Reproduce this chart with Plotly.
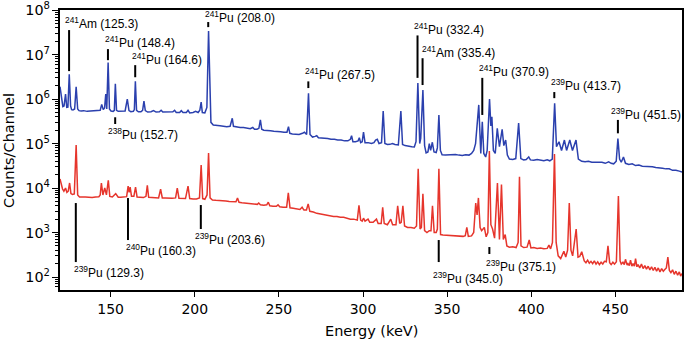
import math
import plotly.graph_objects as go

# ---------------- data ----------------
blue_energy = [
    119.9, 120.8, 121.6, 122.3, 123.2, 123.9, 124.6, 125.4, 126.2, 126.8, 127.6, 128.6, 129.5, 130.4,
    131.2, 132.5, 134, 136, 138, 140, 142, 143.8, 144.7, 145.6, 146.4, 147.1, 147.7, 148.5, 149.3,
    150.2, 151.5, 152.2, 152.8, 153.5, 154.5, 156, 157.5, 158.6, 159.9, 160.9, 162, 163.5, 164.1,
    164.7, 165.4, 166.5, 168, 169, 169.8, 170.6, 172, 174, 175.5, 177, 179, 180, 181, 183, 185, 187,
    188, 189, 191, 192, 193, 195, 196, 197, 199, 200.5, 202, 203, 203.8, 204.5, 206, 207.2, 208.2,
    209.0, 209.6, 211, 213, 215, 217, 219, 221, 222.3, 223, 225, 227, 229, 231, 233, 234.5, 235.5,
    237, 238.1, 239, 239.8, 241, 243, 245, 247, 249, 251, 253, 254.8, 255.7, 256.5, 258, 260, 262,
    264, 265.2, 266.5, 267.6, 268.5, 270, 271.5, 272.5, 273.5, 275, 277, 279, 281, 283, 285, 287,
    289, 291, 292.5, 293.2, 294, 295.5, 297.1, 297.8, 298.6, 299.5, 300.3, 301.2, 303, 305, 306.5,
    307.5, 308.5, 309.5, 311, 312, 313, 314.5, 316, 317.5, 319, 321, 322.5, 323.5, 325, 327, 329,
    330.5, 331.5, 332.6, 333.7, 334.3, 335.6, 336.6, 337.5, 338.6, 339.4, 340.2, 341.2, 342.2,
    343.5, 344.2, 345.1, 346, 347, 349, 351, 353, 355, 357, 359, 361, 363, 364.5, 365.8, 366.9,
    368.8, 370.0, 370.9, 371.8, 372.9, 373.8, 375.2, 376.0, 376.6, 377.5, 378.6, 379.8, 381.1,
    382.7, 383.7, 384.8, 385.8, 387, 389, 390.8, 392.5, 393.8, 395.5, 397, 398.5, 399.5, 401.5,
    403.5, 405.5, 407.5, 409.5, 411, 412.5, 413.9, 415, 416.5, 418, 419.7, 421, 422.9, 424.5,
    426.6, 428, 430, 432, 434, 436, 438, 440, 442, 444, 446, 447.5, 449, 450.5, 451.5, 452.5,
    453.5, 454.8, 456, 458, 460, 462, 464, 466, 468, 470, 472, 474, 476, 478, 480, 482, 484, 486,
    488, 489.6,
]
blue_counts = [
    1.9e6, 1.1e6, 6.8e5, 7.0e5, 1.3e6, 6.5e5, 6.6e5, 3.6e6, 7.0e5, 5.8e5, 5.7e5, 6.0e5, 1.9e6, 6.0e5,
    5.5e5, 5.4e5, 5.5e5, 5.3e5, 5.4e5, 5.3e5, 5.4e5, 5.6e5, 7.6e5, 5.8e5, 6.3e5, 1.3e6, 6.0e5, 6.6e6, 6.0e5,
    5.4e5, 5.3e5, 5.6e5, 2.2e6, 5.6e5, 5.3e5, 5.3e5, 5.2e5, 5.4e5, 1.0e6, 5.5e5, 5.2e5, 5.3e5, 5.8e5,
    2.5e6, 5.6e5, 5.2e5, 5.2e5, 5.6e5, 9.0e5, 5.5e5, 5.1e5, 5.2e5, 5.5e5, 5.1e5, 5.2e5, 5.6e5, 5.1e5, 5.1e5, 5.0e5, 5.2e5,
    5.6e5, 5.0e5, 5.0e5, 5.5e5, 5.0e5, 5.0e5, 5.6e5, 4.9e5, 5.0e5, 5.3e5, 5.0e5, 5.6e5, 8.6e5, 5.0e5, 4.9e5, 6.5e5, 3.4e7,
    1.0e6, 3.0e5, 2.6e5, 2.5e5, 2.5e5, 2.45e5, 2.4e5, 2.45e5, 3.7e5, 2.45e5, 2.35e5, 2.3e5, 2.3e5, 2.2e5, 2.15e5, 2.3e5, 2.1e5,
    2.1e5, 2.2e5, 3.4e5, 2.1e5, 2.0e5, 2.0e5, 1.95e5, 1.9e5, 1.9e5, 1.85e5, 1.8e5, 1.8e5, 2.4e5, 1.7e5, 1.65e5, 1.6e5, 1.6e5,
    1.7e5, 1.8e5, 1.6e5, 1.35e6, 1.6e5, 1.4e5, 1.45e5, 1.5e5, 1.35e5, 1.35e5, 1.3e5, 1.3e5, 1.25e5, 1.25e5, 1.2e5, 1.2e5,
    1.15e5, 1.15e5, 1.25e5, 1.5e5, 1.1e5, 1.1e5, 1.15e5, 1.35e5, 1.05e5, 1.1e5, 1.8e5, 1.05e5, 1.05e5, 1.0e5, 1.05e5,
    1.2e5, 1.25e5, 1.0e5, 1.05e5, 5.4e5, 1.0e5, 9.5e4, 9.6e4, 1.0e5, 9.5e4, 9.3e4, 5.4e5, 9.5e4, 9.0e4, 8.6e4, 8.5e4,
    8.4e4, 1.1e5, 2.3e6, 1.0e5, 1.3e5, 1.6e6, 9.0e4, 6.2e4, 6.5e4, 1.0e5, 7.0e4, 1.07e5, 6.5e4,
    6.3e4, 8.0e4, 4.4e5, 7.0e4, 5.6e4, 5.5e4, 5.6e4, 5.5e4, 5.7e4, 5.5e4, 5.4e4, 5.6e4, 5.5e4, 6.0e4, 7.0e4, 1.0e5,
    7.4e5, 6.0e4, 3.1e5, 6.0e4, 5.0e4, 7.0e4, 1.0e6, 2.5e5, 4.0e5, 7.0e4, 6.0e4, 2.2e5, 8.5e4,
    2.1e5, 9.0e4, 1.2e5, 5.5e4, 4.5e4, 4.4e4, 4.6e4, 2.9e5, 4.6e4, 4.3e4, 4.4e4, 5.0e4, 4.3e4, 4.2e4,
    4.4e4, 4.2e4, 4.1e4, 4.3e4, 4.1e4, 4.5e4, 8.1e5, 8.5e4, 1.1e5, 7.0e4, 1.2e5, 7.0e4, 1.2e5, 7.0e4,
    1.2e5, 4.5e4, 4.0e4, 3.9e4, 4.0e4, 3.8e4, 3.8e4, 3.7e4, 3.8e4, 3.6e4, 3.9e4, 3.6e4, 3.5e4, 4.0e4, 1.3e5, 4.5e4,
    3.8e4, 5.0e4, 3.6e4, 3.4e4, 3.5e4, 3.2e4, 3.3e4, 3.1e4, 3.1e4, 3.0e4, 3.0e4, 2.9e4, 2.9e4, 2.8e4, 2.7e4, 2.7e4, 2.5e4, 2.5e4,
    2.4e4, 2.3e4,
]

red_energy = [
    119.9, 120.6, 121.4, 122.2, 123.2, 124.0, 124.8, 125.6, 126.4, 127.3, 128.4, 129.5, 130.4, 131.5,
    133, 135, 137, 139, 141, 143, 143.8, 144.5, 145.4, 146.5, 147.5, 148.6, 149.5, 151, 153, 154.5,
    156, 158, 159.5, 160.4, 161.0, 161.6, 162.4, 163.8, 164.8, 165.7, 167.5, 169.5, 171, 171.8,
    172.6, 174.5, 176.5, 178.5, 179.7, 180.7, 182.5, 184.5, 186.5, 188.6, 189.6, 190.6, 192.5,
    194.5, 196.0, 197, 199, 201, 202.8, 203.8, 204.7, 206, 207.3, 208.2, 209.1, 210.5, 212.5,
    214.5, 216.5, 218.5, 220.5, 222.5, 224.5, 225.4, 226.3, 228, 230, 232, 234, 236, 237.2, 238,
    239, 241, 242.8, 243.7, 244.6, 246.5, 248.5, 249.5, 250.5, 252.5, 254.6, 255.6, 256.6, 258.5,
    260.5, 262.5, 263.8, 264.9, 266.4, 267.4, 268.4, 270.5, 272.5, 274.5, 276.5, 278.5, 280.5,
    282.5, 284.5, 286.5, 288.5, 290.5, 292.5, 294.5, 296.6, 297.6, 298.6, 299.5, 300.3, 301.2, 303,
    304, 306, 308, 309, 310.8, 311.7, 312.6, 314.5, 316.5, 317.6, 319.6, 320.6, 321.8, 322.7, 323.7,
    324.7, 326.5, 328.5, 330.5, 331.8, 332.8, 333.9, 334.7, 335.6, 336.6, 338, 339.4, 340.4, 341.3,
    342.3, 343.5, 344.2, 345.1, 346.1, 347.5, 349.5, 351.5, 353.5, 355.5, 357.5, 359.5, 360.8,
    361.7, 362.6, 364.5, 365.8, 367, 367.8, 368.6, 369.6, 370.5, 372.1, 373.2, 374.2, 375.1, 376,
    377, 378.2, 379.9, 381.1, 382.3, 383.4, 384.5, 385.5, 387, 389, 391, 392.2, 393.0, 393.9, 395.5,
    397.5, 398.8, 399.8, 401.5, 403.5, 405.5, 407.5, 409.5, 410.5, 411.5, 412.6, 413.8, 414.8, 416,
    417.5, 419.4, 420.5, 421.6, 422.6, 423.6, 424.6, 426.7, 427.8, 428.8, 430,
    431.5, 432.5, 433.5, 434.5, 435.5, 436.5, 437.5, 438.5, 439.5, 440.5, 441.5, 442.5, 443.5,
    444.6, 445.6, 446.6, 447.5, 448.5, 449.5, 450.6, 451.8, 452.8, 453.5, 454.5, 455.3, 456, 457,
    457.5, 458.3, 459, 459.8, 460.5, 461.3, 462, 462.8, 463.5, 464.5, 465.5, 466.5, 467.5, 468.5,
    469.5, 470.5, 471.5, 472.5, 473.5, 474.5, 475.5, 476.5, 477.5, 478.5, 479.5, 480.3, 481.2,
    482.1, 483, 484, 485, 486, 487, 488, 488.8, 489.6,
]
red_counts = [
    1.6e4, 1.2e4, 9.5e3, 8.5e3, 1.0e4, 8.0e3, 8.5e3, 1.3e4, 7.5e3, 7.2e3, 7.4e3, 9.3e4, 7.0e3, 6.3e3,
    6.2e3, 6.3e3, 6.2e3, 6.1e3, 6.3e3, 6.4e3, 7.0e3, 1.3e4, 7.0e3, 1.0e4, 7.0e3, 1.5e4, 6.5e3, 6.3e3, 7.5e3, 6.2e3,
    6.2e3, 6.3e3, 6.4e3, 1.1e4, 8.0e3, 1.05e4, 6.5e3, 6.5e3, 1.05e4, 6.3e3, 6.2e3, 6.1e3, 6.5e3, 1.15e4,
    6.2e3, 6.1e3, 6.0e3, 6.0e3, 9.4e3, 6.0e3, 6.0e3, 5.9e3, 5.9e3, 6.0e3, 1.0e4, 5.9e3, 5.8e3,
    5.8e3, 1.1e4, 5.8e3, 5.7e3, 5.7e3, 6.0e3, 3.3e4, 5.8e3, 5.6e3, 7.0e3, 6.1e4, 6.0e3, 5.4e3, 5.3e3,
    5.3e3, 5.2e3, 5.1e3, 5.0e3, 4.9e3, 4.9e3, 6.0e3, 4.8e3, 4.7e3, 4.6e3, 4.5e3, 4.4e3, 4.3e3, 4.3e3, 4.6e3,
    4.2e3, 4.1e3, 4.2e3, 4.8e3, 4.0e3, 3.9e3, 3.9e3, 4.2e3, 3.8e3, 3.7e3, 3.7e3, 7.8e3, 3.6e3, 3.5e3,
    3.4e3, 3.3e3, 3.7e3, 3.2e3, 3.2e3, 4.4e3, 3.0e3, 2.9e3, 2.7e3, 2.6e3, 2.5e3, 2.4e3, 2.4e3,
    2.3e3, 2.3e3, 2.2e3, 2.2e3, 2.1e3, 2.0e3, 2.0e3, 1.9e3, 4.1e3, 1.9e3, 1.8e3, 2.1e3, 1.8e3, 2.0e3,
    1.7e3, 1.7e3, 2.0e3, 1.6e3, 1.6e3, 3.7e3, 1.6e3, 1.5e3, 2.0e3, 1.5e3, 1.5e3, 4.0e3, 1.6e3, 1.7e3, 4.0e3,
    1.4e3, 1.3e3, 1.3e3, 1.25e3, 1.4e3, 2.7e4, 1.2e3, 1.3e3, 7.4e3, 1.1e3, 1.0e3, 1.1e3, 1.1e3, 4.0e3,
    1.0e3, 1.0e3, 1.2e3, 2.7e4, 9.0e2, 8.8e2, 8.7e2, 8.5e2, 8.6e2, 8.4e2, 8.3e2, 8.2e2, 8.5e2,
    1.3e3, 8.2e2, 8.4e2, 1.0e3, 4.6e3, 2.5e3, 6.0e3, 1.3e3, 1.1e3, 1.3e3, 8.0e2, 1.0e3, 6.8e4, 1.5e3,
    1.2e3, 7.5e2, 1.3e4, 7.0e2, 1.2e4, 7.0e2, 9.0e2, 5.0e2, 4.7e2, 4.8e2, 4.6e2, 6.0e2, 1.8e4, 5.0e2, 4.6e2,
    4.7e2, 6.8e2, 4.5e2, 4.6e2, 4.4e2, 4.5e2, 4.3e2, 4.4e2, 5.2e2, 4.3e2, 6.0e2, 5.8e4, 6.0e2, 3.0e2,
    2.6e2, 3.8e2, 2.8e2, 4.0e2, 4.6e3, 4.0e2, 3.0e2, 1.2e3, 2.8e2, 2.9e2, 3.7e2,
    230, 210, 240, 205, 225, 200, 230, 195, 220, 190, 215, 195, 225,
    220, 500, 210, 190, 215, 195, 220, 6600, 230, 195, 215, 190, 250, 185,
    200, 180, 240, 175, 200, 175, 260, 170, 190, 160, 195, 155, 180, 150,
    175, 145, 170, 140, 165, 135, 160, 130, 155, 135, 150, 160, 280,
    140, 125, 145, 115, 135, 110, 130, 105, 120,
]

# annotation labels: isotope mass, element, energy
ann_mass = ["241", "241", "241", "241", "241", "241", "241", "241", "239", "239",
            "238", "239", "240", "239", "239", "239"]
ann_elem = ["Am", "Pu", "Pu", "Pu", "Pu", "Pu", "Am", "Pu", "Pu", "Pu",
            "Pu", "Pu", "Pu", "Pu", "Pu", "Pu"]
ann_energy = [125.3, 148.4, 164.6, 208.0, 267.5, 332.4, 335.4, 370.9, 413.7, 451.5,
              152.7, 129.3, 160.3, 203.6, 345.0, 375.1]

# annotation placement (marker line ends and text position in counts, text shift in px)
ann_line_top = [3.56e7, 1.33e7, 5.8e6, 5.4e7, 2.5e6, 2.7e7, 8.3e6, 3.0e6, 1.44e6, 3.4e5,
                3.9e5, 4.6e3, 5.96e3, 4.15e3, 678, 472]
ann_line_bot = [4.26e6, 7.5e6, 3.1e6, 4.15e7, 1.77e6, 3.0e6, 2.07e6, 4.4e5, 1.05e6, 1.7e5,
                2.75e5, 217, 678, 1.2e3, 217, 329]
ann_text_y = [5.1e7, 1.9e7, 7.9e6, 7.0e7, 3.65e6, 3.7e7, 1.14e7, 4.3e6, 2.07e6, 4.6e5,
              1.63e5, 129, 405, 715, 95, 177]
ann_text_dx = [-6, -5, -5, -5.5, -5, -6, -3, -5.5, -5.7, -9,
               -9, -3.5, -3.7, -7.7, -8, -5.7]

FONT = "DejaVu Sans"
ANN_FONT = "Liberation Sans"
BLUE = "#2b40ae"
RED = "#e6352c"

fig = go.Figure()
fig.add_trace(go.Scatter(x=blue_energy, y=blue_counts, mode="lines",
                         line=dict(color=BLUE, width=1.5), showlegend=False, hoverinfo="skip"))
fig.add_trace(go.Scatter(x=red_energy, y=red_counts, mode="lines",
                         line=dict(color=RED, width=1.5), showlegend=False, hoverinfo="skip"))

# marker lines for the labelled peaks
lx, ly = [], []
for e, t, b in zip(ann_energy, ann_line_top, ann_line_bot):
    lx += [e, e, None]
    ly += [t, b, None]
fig.add_trace(go.Scatter(x=lx, y=ly, mode="lines", line=dict(color="black", width=2),
                         showlegend=False, hoverinfo="skip"))

annotations = []
for m, el, e, ty, dx in zip(ann_mass, ann_elem, ann_energy, ann_text_y, ann_text_dx):
    annotations.append(dict(
        x=e, y=math.log10(ty), xref="x", yref="y",
        text=f"<sup>{m}</sup>{el} ({e:.1f})", showarrow=False,
        xanchor="left", yanchor="middle", xshift=dx,
        font=dict(family=ANN_FONT, size=12, color="black"),
    ))

# axis titles
annotations.append(dict(x=0.5, y=-0.145, xref="paper", yref="paper",
                        text="Energy (keV)", showarrow=False,
                        xanchor="center", yanchor="middle",
                        font=dict(family=FONT, size=14.5, color="black")))
annotations.append(dict(x=-0.082, y=0.5, xref="paper", yref="paper",
                        text="Counts/Channel", showarrow=False, textangle=-90,
                        xanchor="center", yanchor="middle",
                        font=dict(family=FONT, size=14.5, color="black")))

fig.update_layout(
    width=685, height=342,
    margin=dict(l=60, r=3, t=10, b=52),
    paper_bgcolor="white", plot_bgcolor="white",
    font=dict(family=FONT, color="black"),
    annotations=annotations,
)
fig.update_xaxes(
    range=[119.9, 489.6], tickvals=[150, 200, 250, 300, 350, 400, 450],
    ticks="outside", ticklen=5, tickwidth=1.2, tickcolor="black",
    showline=True, linecolor="black", linewidth=1.5, mirror=True,
    showgrid=False, zeroline=False, automargin=False,
    tickfont=dict(family=FONT, size=14),
)
fig.update_yaxes(
    type="log", range=[1.708, 8.003], dtick=1, exponentformat="power",
    ticks="outside", ticklen=6, tickwidth=1.2, tickcolor="black",
    minor=dict(ticks="outside", ticklen=3, tickcolor="black", dtick="D1", showgrid=False),
    showline=True, linecolor="black", linewidth=1.5, mirror=True,
    showgrid=False, zeroline=False, automargin=False,
    tickfont=dict(family=FONT, size=11.5),
)

fig.write_html("out.html", config={"displayModeBar": False},
               post_script="document.body.style.margin='0';")
